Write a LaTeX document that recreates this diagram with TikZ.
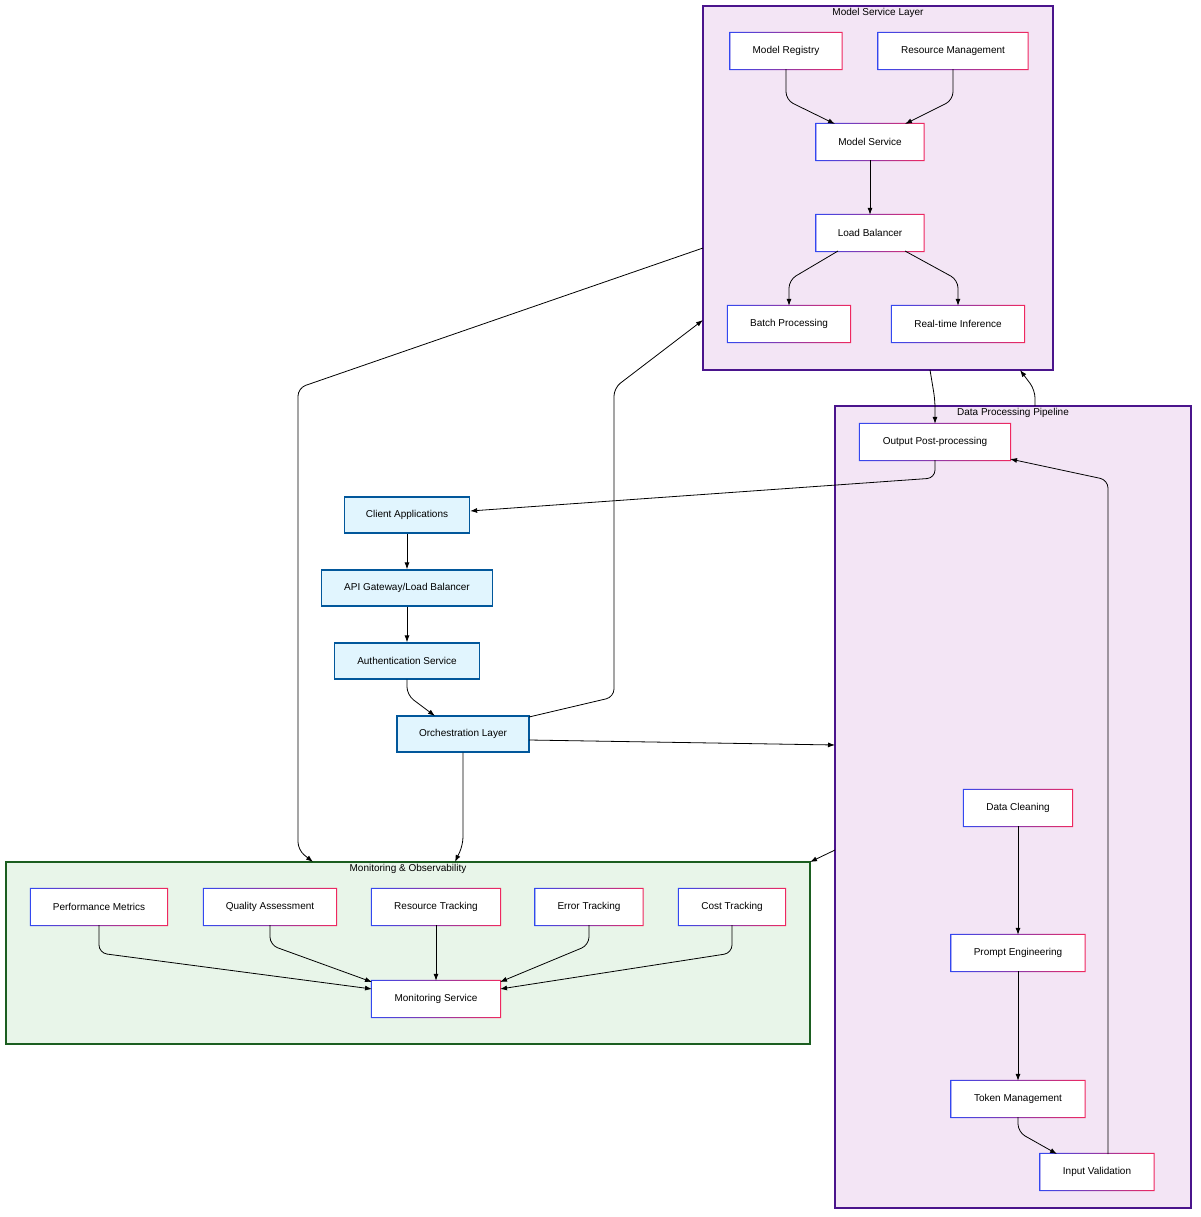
\documentclass[tikz,border=0pt]{standalone}
\usepackage{fontspec}
\setmainfont{Liberation Sans}
\usetikzlibrary{arrows.meta}
\definecolor{gbl}{HTML}{3348F0}
\definecolor{gpk}{HTML}{F0285F}
\definecolor{clfill}{HTML}{F3E5F5}
\definecolor{clline}{HTML}{4A148C}
\definecolor{monfill}{HTML}{E8F5E9}
\definecolor{monline}{HTML}{1B5E20}
\definecolor{cfill}{HTML}{E1F5FE}
\definecolor{cline}{HTML}{01579B}
\newcommand\gb[4]{%
  \node[fill=white,minimum width=#3pt,minimum height=36pt,inner sep=0pt,font=\fontsize{10}{12}\selectfont] (#1) at (#2) {#4};
  \shade[left color=gbl,right color=gpk,even odd rule]
    ([shift={(-0.9pt,-0.9pt)}]#1.south west) rectangle ([shift={(0.9pt,0.9pt)}]#1.north east)
    (#1.south west) rectangle (#1.north east);}
\tikzset{
  arr/.style={-{Latex[length=7pt,width=5pt]},black,line width=0.8pt,rounded corners=8pt},
  cl/.style={draw=clline,fill=clfill,line width=1.3pt,inner sep=0pt},
  cb/.style={draw=cline,fill=cfill,line width=1.3pt,minimum height=36pt,inner sep=0pt,font=\fontsize{10}{12}\selectfont},
  lab/.style={font=\fontsize{10}{12}\selectfont}
}
\begin{document}
\begin{tikzpicture}[x=1pt,y=-1pt]
\useasboundingbox (0,0) rectangle (1200,1217);
% clusters
\node[cl,minimum width=350pt,minimum height=364pt] (msl) at (878,188) {};
\node[lab] (msllab) at (878,13) {Model Service Layer};
\node[cl,minimum width=356pt,minimum height=802pt] (dpp) at (1013,807) {};
\node[lab] (dpplab) at (1013,413) {Data Processing Pipeline};
\node[draw=monline,fill=monfill,line width=1.3pt,inner sep=0pt,minimum width=804pt,minimum height=182pt] (mon) at (408,953) {};
\node[lab] (monlab) at (408,869) {Monitoring \& Observability};
% nodes
\gb{mr}{786,51}{111}{Model Registry}
\gb{rm}{953,51}{149}{Resource Management}
\gb{ms}{870,142}{107}{Model Service}
\gb{lb}{870,233}{107}{Load Balancer}
\gb{bp}{789,324}{122}{Batch Processing}
\gb{rt}{958,324}{132}{Real-time Inference}
\gb{op}{935,442}{150}{Output Post-processing}
\gb{dc}{1018,808}{108}{Data Cleaning}
\gb{pe}{1018,953}{133}{Prompt Engineering}
\gb{tm}{1018,1099}{133}{Token Management}
\gb{iv}{1097,1172}{113}{Input Validation}
\gb{pm}{99,907}{136}{Performance Metrics}
\gb{qa}{270,907}{132}{Quality Assessment}
\gb{rtr}{436,907}{128}{Resource Tracking}
\gb{et}{589,907}{107}{Error Tracking}
\gb{ct}{732,907}{106}{Cost Tracking}
\gb{mon2}{436,999}{128}{Monitoring Service}
\node[cb,minimum width=125pt] (ca) at (407,515) {Client Applications};
\node[cb,minimum width=171pt] (api) at (407,588) {API Gateway/Load Balancer};
\node[cb,minimum width=145pt] (auth) at (407,661) {Authentication Service};
\node[cb,minimum width=132pt] (orch) at (463,734) {Orchestration Layer};
% coordinates
\coordinate (m1) at (703,248);
\coordinate (m2) at (313,862);
\coordinate (o1) at (703,320);
\coordinate (m3) at (930,370);
\coordinate (d1) at (1035,406);
\coordinate (m4) at (1020,370);
\coordinate (d2) at (835,745);
\coordinate (m5) at (455,862);
\coordinate (d3) at (835,850);
\coordinate (m6) at (810,862);
% edges
\draw[arr] (mr.south) -- (786,100) -- (835,124) ;
\draw[arr] (rm.south) -- (953,100) -- (905,124);
\draw[arr] (ms) -- (lb);
\draw[arr] (838,251) -- (789,280) -- (bp.north);
\draw[arr] (905,251) -- (958,280) -- (rt.north);
\draw[arr] (m1) -- (298,388) -- (298,850) -- (m2);
\draw[arr] (529,717) -- (614,697) -- (614,388) -- (o1);
\draw[arr] (m3) -- (935,400) -- (op.north);
\draw[arr] (d1) -- (1035,390) -- (m4);
\draw[arr] (op.south) -- (935,478) -- (ca.east |- 0,511);
\draw[arr] (ca) -- (api);
\draw[arr] (api) -- (auth);
\draw[arr] (auth.south) -- (407,695) -- (435,716);
\draw[arr] (529,740) -- (d2);
\draw[arr] (orch.south) -- (463,845) -- (m5);
\draw[arr] (d3) -- (m6);
\draw[arr] (dc) -- (pe);
\draw[arr] (pe) -- (tm);
\draw[arr] (tm.south) -- (1018,1132) -- (1057,1154);
\draw[arr] (1108,1154) -- (1108,480) -- (1010,459);
\draw[arr] (pm.south) -- (99,953) -- (372,989);
\draw[arr] (qa.south) -- (270,945) -- (372,982);
\draw[arr] (rtr) -- (mon2);
\draw[arr] (et.south) -- (589,945) -- (500,982);
\draw[arr] (ct.south) -- (732,953) -- (500,989);
\end{tikzpicture}
\end{document}
